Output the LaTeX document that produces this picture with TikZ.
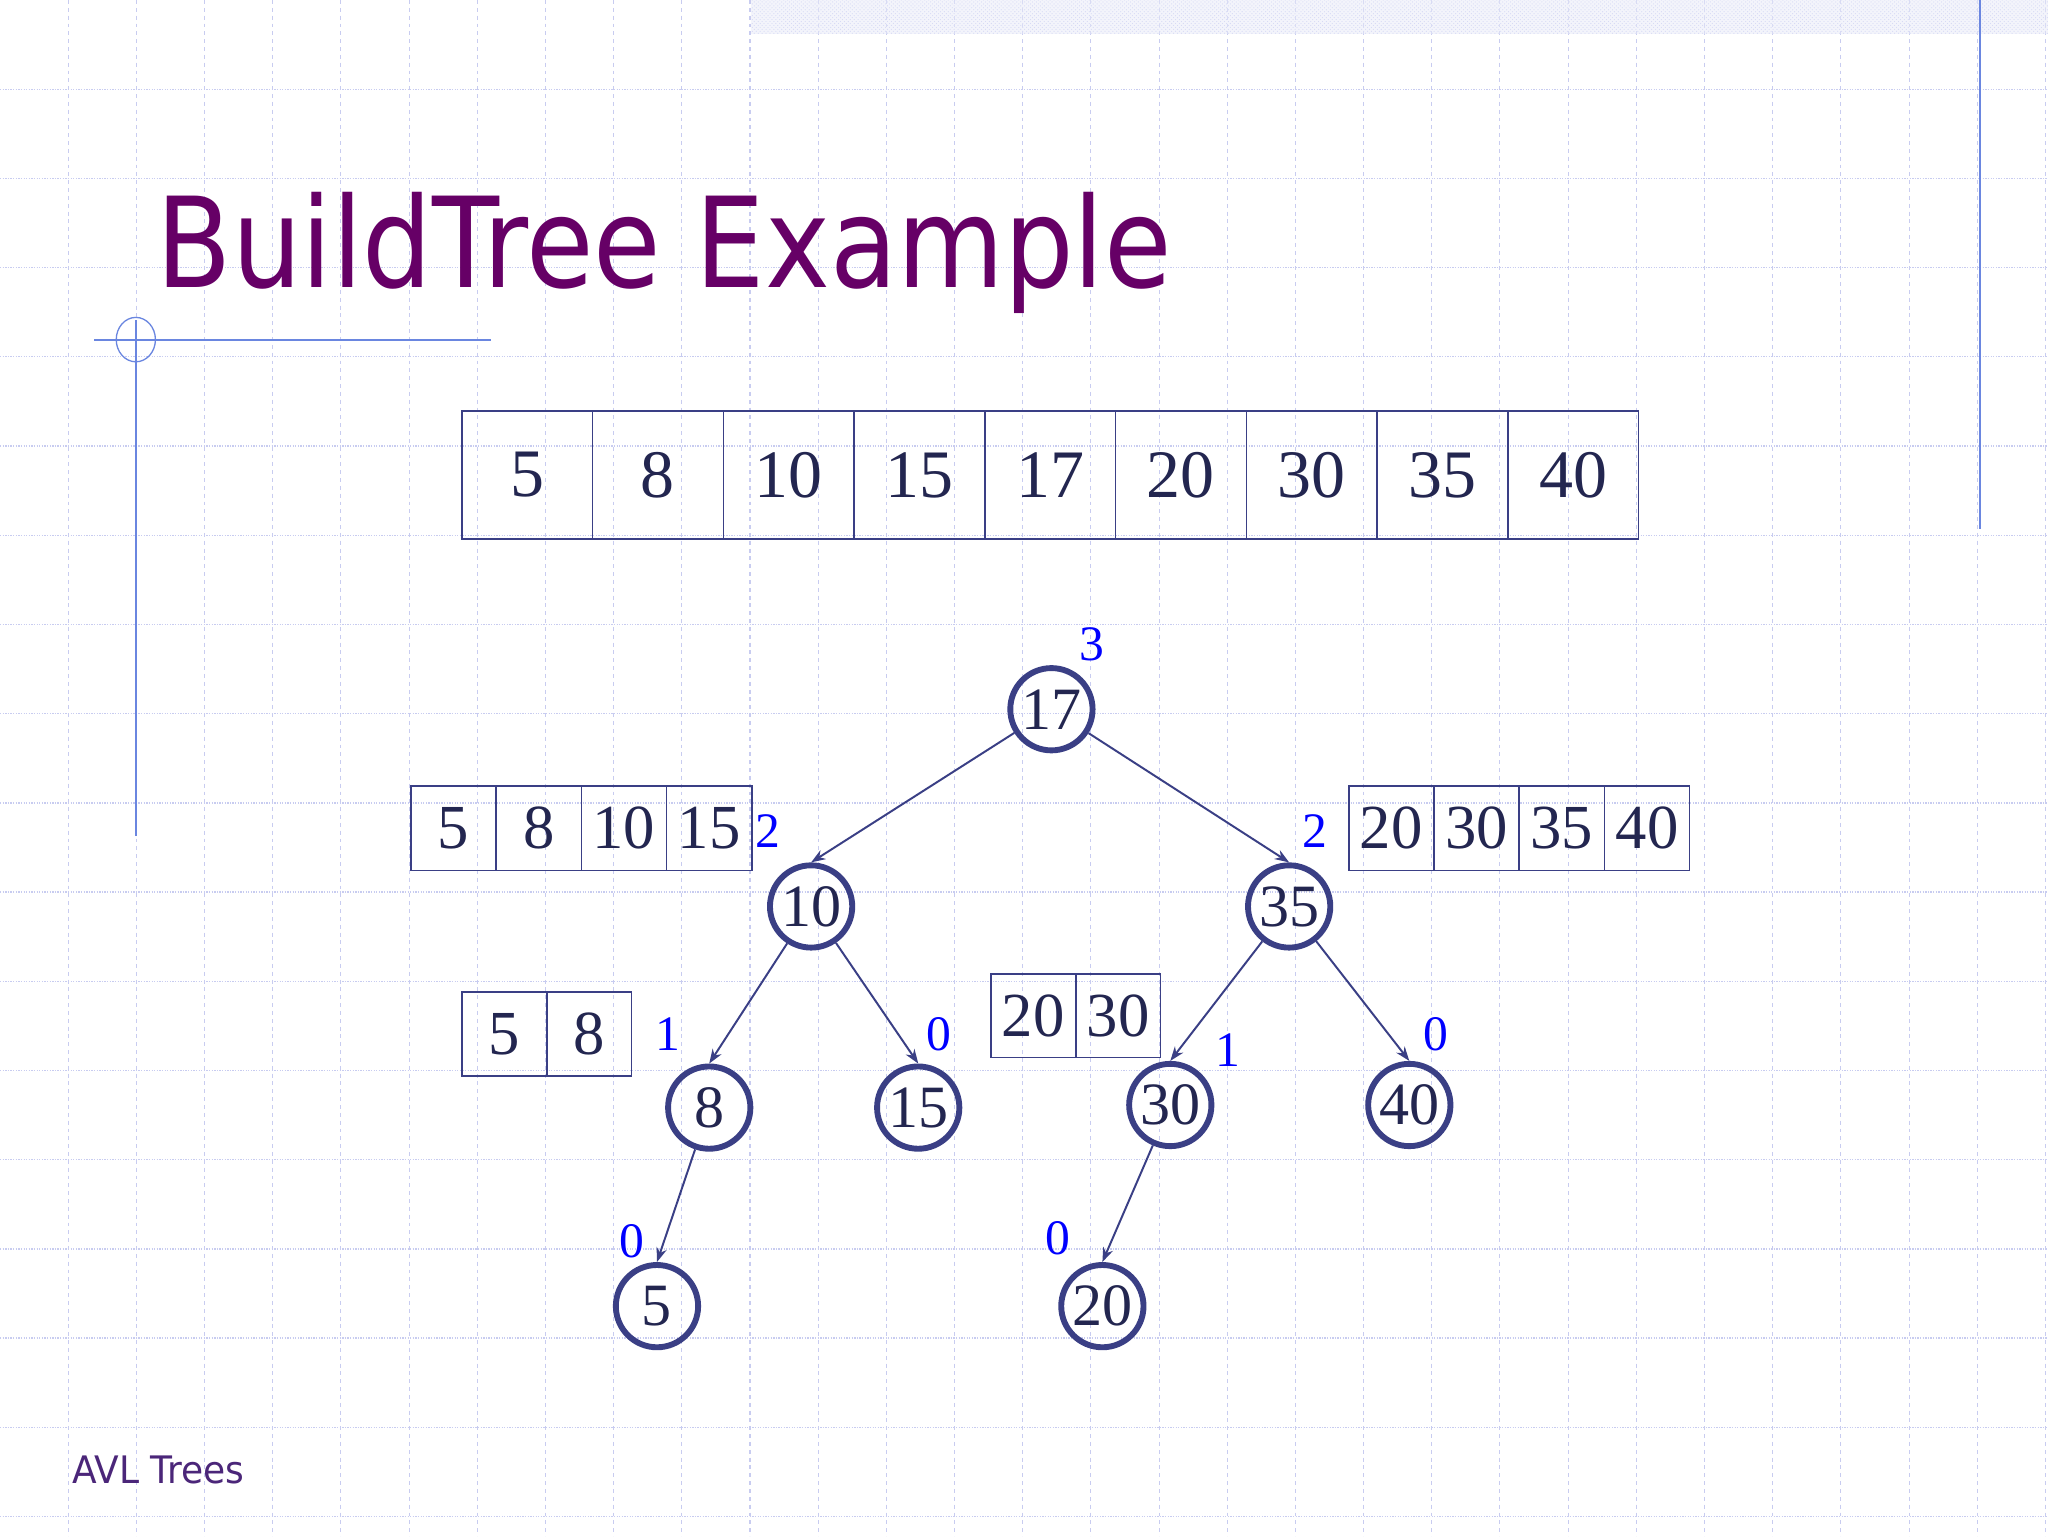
\documentclass[tikz,border=0pt]{standalone}
\usepackage{fontspec}
\setmainfont{Liberation Serif}
\newfontfamily\verd{DejaVu Sans}
\usetikzlibrary{arrows.meta,patterns}
\definecolor{gridc}{HTML}{C8CCF0}
\definecolor{nodec}{HTML}{3A3F85}
\definecolor{titlec}{HTML}{660066}
\definecolor{linec}{HTML}{6A86E0}
\tikzset{
  tn/.style={circle,draw=nodec,line width=4.5pt,minimum size=63pt,inner sep=0pt,font=\fontsize{46}{46}\selectfont,text=nodec!60!black},
  lab/.style={text=blue,font=\fontsize{38}{38}\selectfont,inner sep=0pt},
  cell/.style={draw=nodec,line width=1.2pt,inner sep=0pt,text=nodec!60!black},
  edge/.style={draw=nodec,line width=1.5pt,-{Stealth[length=11pt,width=8pt]}}
}
\begin{document}
\begin{tikzpicture}[x=1pt,y=-1pt]
\useasboundingbox (0,0) rectangle (1568,1176);
\fill[white] (0,0) rectangle (1568,1176);
\foreach \i in {1,...,30} \draw[gridc,dashed,line width=0.8pt] (\i*52.2,0) -- (\i*52.2,1176);
\foreach \j in {1,...,17} \draw[gridc,densely dotted,line width=1pt] (0,\j*68.3) -- (1568,\j*68.3);
\fill[pattern=crosshatch dots,pattern color=gridc] (575,0) rectangle (1568,26);
\fill[gridc!40,opacity=0.5] (575,0) rectangle (1568,26);
\draw[linec,line width=1.2pt] (1516,0) -- (1516,405);
\draw[linec,line width=1.2pt] (104,245) -- (104,640);
\draw[linec,line width=1.5pt] (72,260) -- (376,260);
\draw[linec,line width=1pt] (104,260) ellipse (15 and 17);
\node[anchor=base west,inner sep=0pt,text=titlec,font=\verd\fontsize{96}{96}\selectfont] (title) at (120,220) {\scalebox{0.875}[1]{BuildTree Example}};
\node[anchor=base west,inner sep=0pt,text=titlec!40!nodec,font=\verd\fontsize{29}{29}\selectfont] (foot) at (55,1136) {\scalebox{0.95}[1]{AVL Trees}};
% main array
\foreach \v [count=\k from 0] in {5,8,10,15,17,20,30,35,40}
  \node[cell,minimum width=100.1pt,minimum height=98pt,font=\fontsize{52}{52}\selectfont,anchor=north west] (a\k) at (353+\k*100.1,314) {\v};
% small arrays
\foreach \v [count=\k from 0] in {5,8,10,15}
  \node[cell,minimum width=65.25pt,minimum height=65pt,font=\fontsize{48}{48}\selectfont,anchor=north west] (l\k) at (314+\k*65.25,601) {\v};
\foreach \v [count=\k from 0] in {20,30,35,40}
  \node[cell,minimum width=65.25pt,minimum height=65pt,font=\fontsize{48}{48}\selectfont,anchor=north west] (r\k) at (1032+\k*65.25,601) {\v};
\foreach \v [count=\k from 0] in {5,8}
  \node[cell,minimum width=65pt,minimum height=64pt,font=\fontsize{48}{48}\selectfont,anchor=north west] (s\k) at (353+\k*65,759) {\v};
\foreach \v [count=\k from 0] in {20,30}
  \node[cell,minimum width=65pt,minimum height=64pt,font=\fontsize{48}{48}\selectfont,anchor=north west] (t\k) at (758+\k*65,745) {\v};
% tree
\node[tn] (n17) at (805,543) {17};
\node[tn] (n10) at (621,694) {10};
\node[tn] (n35) at (987,694) {35};
\node[tn] (n8) at (543,848) {8};
\node[tn] (n15) at (703,848) {15};
\node[tn] (n30) at (896,846) {30};
\node[tn] (n40) at (1079,846) {40};
\node[tn] (n5) at (503,1000) {5};
\node[tn] (n20) at (844,1000) {20};
\draw[edge] (n17) -- (n10.north);
\draw[edge] (n17) -- (n35.north);
\draw[edge] (n10) -- (n8.north);
\draw[edge] (n10) -- (n15.north);
\draw[edge] (n35) -- (n30.north);
\draw[edge] (n35) -- (n40.north);
\draw[edge] (n8) -- (n5.north);
\draw[edge] (n30) -- (n20.north);
\node[lab] (h17) at (836,493) {3};
\node[lab] (h10) at (588,636) {2};
\node[lab] (h35) at (1007,636) {2};
\node[lab] (h8) at (511,792) {1};
\node[lab] (h15) at (719,792) {0};
\node[lab] (h30) at (940,804) {1};
\node[lab] (h40) at (1099,792) {0};
\node[lab] (h5) at (484,950) {0};
\node[lab] (h20) at (810,948) {0};
\end{tikzpicture}
\end{document}
